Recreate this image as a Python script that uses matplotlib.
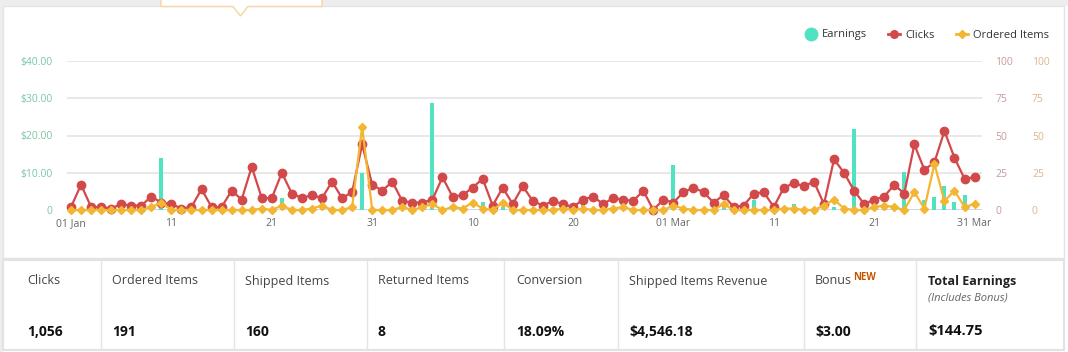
import matplotlib
matplotlib.use("Agg")
import matplotlib.pyplot as plt
from matplotlib.patches import Rectangle, Polygon
import numpy as np

# daily values, 01 Jan .. 31 Mar (91 days)
clicks = [2, 17, 2, 2, 1, 4, 3, 3, 9, 5,
          4, 1, 2, 14, 2, 2, 13, 7, 29, 8,
          8, 25, 11, 8, 10, 8, 19, 8, 12, 44,
          17, 13, 19, 6, 5, 5, 7, 22, 9, 10,
          15, 21, 3, 15, 4, 16, 6, 3, 6, 4,
          2, 7, 9, 4, 8, 7, 6, 13, 0, 7,
          5, 12, 15, 12, 5, 10, 2, 3, 11, 12,
          2, 15, 18, 16, 19, 4, 34, 25, 13, 4,
          7, 9, 17, 11, 44, 27, 32, 53, 35, 21,
          22]
ordered_items = [0, 0, 0, 0, 0, 0, 0, 0, 2, 5,
                 0, 0, 0, 0, 0, 0, 0, 0, 0, 1,
                 0, 3, 0, 0, 1, 3, 0, 0, 2, 56,
                 0, 0, 0, 2, 0, 2, 4, 0, 2, 1,
                 5, 1, 0, 5, 0, 0, 0, 0, 0, 1,
                 0, 1, 0, 0, 1, 2, 0, 0, 0, 0,
                 3, 1, 0, 0, 0, 4, 0, 0, 0, 0,
                 0, 1, 1, 0, 0, 3, 7, 1, 0, 0,
                 2, 3, 2, 0, 12, 1, 31, 6, 13, 2,
                 4]
earnings = [0, 0, 0, 0, 0, 0, 0, 0, 0, 13.9,
            0, 0, 0, 0, 0, 0, 0, 0, 0, 0,
            0, 3.3, 0, 0, 0, 2.2, 0, 0, 0, 9.9,
            0, 0, 0, 0, 0, 0, 28.7, 0, 0, 0,
            0, 2.2, 0, 0.8, 0, 0, 0, 0, 0, 0,
            0, 1.8, 0, 0, 0, 0, 0, 0, 0, 0,
            12.1, 0, 0, 0, 0, 1.3, 0, 0, 2.7, 0,
            0, 0, 1.6, 0, 0, 0, 0.7, 0, 21.8, 0,
            0, 0.9, 0, 10.3, 0, 2.7, 3.6, 6.5, 2.2, 4.0,
            0]
xtick_pos = [0, 10, 20, 30, 40, 50, 60, 70, 80, 90]
xtick_labels = ["01 Jan", "11", "21", "31", "10", "20", "01 Mar", "11", "21", "31 Mar"]

# summary table
headers = ["Clicks", "Ordered Items", "Shipped Items", "Returned Items",
           "Conversion", "Shipped Items Revenue", "Bonus", "Total Earnings"]
values = ["1,056", "191", "160", "8", "18.09%", "$4,546.18", "$3.00", "$144.75"]

TEAL = "#50e3c2"
RED = "#d2494b"
YELLOW = "#f2b632"

plt.rcParams["font.family"] = ["Open Sans", "DejaVu Sans"]

W, H = 1068, 352
fig = plt.figure(figsize=(W / 100, H / 100), dpi=100, facecolor="white")

# background layer in pixel coords
bg = fig.add_axes([0, 0, 1, 1], zorder=0)
bg.set_xlim(0, W)
bg.set_ylim(H, 0)
bg.axis("off")
bg.add_patch(Rectangle((0, 0), W, 6, color="#ededed", lw=0))
bg.add_patch(Rectangle((0, 0), 3, H, color="#ededed", lw=0))
bg.add_patch(Rectangle((3, 6), 1061, 252, facecolor="white", edgecolor="#e4e4e4", lw=1))
bg.add_patch(Rectangle((3, 259.5), 1061, 90.5, facecolor="white", edgecolor="#e2e2e2", lw=1.5))
bg.add_patch(Polygon([(161, -1), (322, -1), (322, 6.5), (248, 6.5), (240.5, 16),
                      (233, 6.5), (161, 6.5)], closed=True,
                     facecolor="white", edgecolor="#f6d6a4", lw=1))

# table dividers and text
for xd in [101, 234, 367, 504, 618, 804, 916]:
    bg.plot([xd, xd], [260, 349.5], color="#e4e4e4", lw=1)
header_x = [27, 112, 245, 378, 516, 629, 815, 928]
for i, (hx, hd, vl) in enumerate(zip(header_x, headers, values)):
    bold = hd == "Total Earnings"
    bg.text(hx, 281, hd, fontsize=9, color="#222" if bold else "#444",
            fontweight="bold" if bold else "normal", va="center", ha="left")
    bg.text(hx, 331 if bold else 332, vl, fontsize=10.5 if bold else 10,
            color="#111", fontweight="bold", va="center", ha="left")
bg.text(853, 277.5, "NEW", fontsize=7, color="#c45500", fontweight="bold", va="center")
bg.text(928, 298, "(Includes Bonus)", fontsize=8, color="#666", style="italic",
        va="center")

# legend
bg.plot([810.5], [34], "o", ms=9, color=TEAL)
bg.text(822, 35, "Earnings", fontsize=8, color="#333", va="center")
bg.plot([888, 900], [34, 34], color=RED, lw=2)
bg.plot([894], [34], "o", ms=5.5, color=RED)
bg.text(905, 35, "Clicks", fontsize=8, color="#333", va="center")
bg.plot([956, 968], [34, 34], color=YELLOW, lw=2)
bg.plot([962], [34], "D", ms=4.5, color=YELLOW)
bg.text(973, 35, "Ordered Items", fontsize=8, color="#333", va="center")

# main chart
days = np.arange(len(clicks))
ax = fig.add_axes([67 / W, (H - 210) / H, (982 - 67) / W, (210 - 61) / H], zorder=2)
ax.set_facecolor("none")
ax.bar(days, earnings, width=0.4, color=TEAL, zorder=2)
ax.set_xlim(-0.4, 90.74)
ax.set_ylim(0, 40)
ax.set_yticks([0, 10, 20, 30, 40])
ax.set_yticklabels(["0", "$10.00", "$20.00", "$30.00", "$40.00"])
ax.set_xticks(xtick_pos)
ax.set_xticklabels(xtick_labels)
ax.yaxis.grid(True, color="#e6e6e6", lw=1.3)
ax.set_axisbelow(True)
ax.axhline(0, color="#ccd6eb", lw=1.3, zorder=1)
for s in ax.spines.values():
    s.set_visible(False)
ax.tick_params(axis="y", length=0, pad=10.5, labelsize=7.5, labelcolor="#7cc6a4")
ax.tick_params(axis="x", length=0, pad=6, labelsize=7.5, labelcolor="#666")

ax2 = ax.twinx()
ax2.plot(days, clicks, color=RED, lw=1.6, marker="o", ms=6, clip_on=False, zorder=3)
ax2.set_ylim(0, 100)
ax2.set_yticks([0, 25, 50, 75, 100])
ax2.tick_params(axis="y", length=0, pad=9.5, labelsize=7.5, labelcolor="#c59b9b")

ax3 = ax.twinx()
ax3.plot(days, ordered_items, color=YELLOW, lw=1.6, marker="D", ms=4.5, clip_on=False, zorder=4)
ax3.set_ylim(0, 100)
ax3.set_yticks([0, 25, 50, 75, 100])
ax3.tick_params(axis="y", length=0, pad=36, labelsize=7.5, labelcolor="#dcb68e")

for a in (ax2, ax3):
    for s in a.spines.values():
        s.set_visible(False)

fig.savefig("out.png", dpi=100, facecolor="white")
